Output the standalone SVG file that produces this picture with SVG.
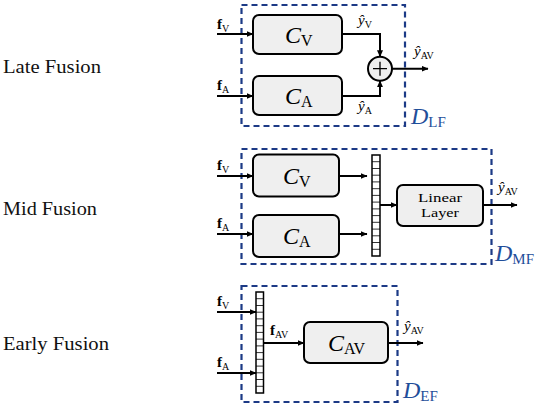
<svg xmlns="http://www.w3.org/2000/svg" width="550" height="409" viewBox="0 0 550 409">
<defs>
<marker id="ah" markerWidth="7" markerHeight="6" refX="6.5" refY="3" orient="auto" markerUnits="userSpaceOnUse"><path d="M0,0 L7,3 L0,6 z" fill="#000"/></marker>
</defs>
<style>
text{font-family:"Liberation Serif","Times New Roman","Noto Serif","DejaVu Serif",Tinos,serif}
.lbl{font-size:19px;fill:#111}
.box{fill:#efefef;stroke:#000;stroke-width:2}
.dash{fill:none;stroke:#1c3a86;stroke-width:2.2;stroke-dasharray:6 4}
.arr{fill:none;stroke:#000;stroke-width:2;marker-end:url(#ah)}
.m{fill:#000}
.cal{font-style:italic;font-size:24px}
.it{font-style:italic;font-size:15px}
.bf{font-weight:bold;font-size:15px}
.sub{font-style:normal;font-weight:normal;font-size:10px}
.D{fill:#1f4e9a}
.vec{fill:#fff;stroke:#000;stroke-width:1.5}
.cell{stroke:#000;stroke-width:0.8;fill:none}
</style>
<g id="titles">
<text class="lbl" x="3" y="73" textLength="98" lengthAdjust="spacingAndGlyphs">Late Fusion</text>
<text class="lbl" x="3" y="215" textLength="94" lengthAdjust="spacingAndGlyphs">Mid Fusion</text>
<text class="lbl" x="3" y="350" textLength="106" lengthAdjust="spacingAndGlyphs">Early Fusion</text>
</g>

<!-- Late fusion -->
<g id="lf-frame"><rect class="dash" x="241.5" y="5" width="163.5" height="121"/>
<text class="D" x="411" y="124"><tspan font-style="italic" font-size="24">D</tspan><tspan font-size="15" dy="3">LF</tspan></text></g>
<g id="lf-cv"><rect class="box" x="253" y="15" width="89" height="39" rx="6"/>
<text class="m" x="285" y="43"><tspan class="cal">C</tspan><tspan font-size="16" dy="3">V</tspan></text></g>
<g id="lf-ca"><rect class="box" x="253" y="76" width="89" height="39" rx="6"/>
<text class="m" x="285" y="104"><tspan class="cal">C</tspan><tspan font-size="16" dy="3">A</tspan></text></g>
<g id="lf-sum"><circle cx="380" cy="68.7" r="12" fill="#efefef" stroke="#000" stroke-width="2"/>
<path d="M373,68.7 H387 M380,61.7 V75.7" stroke="#000" stroke-width="1.3"/></g>
<g id="lf-connectors">
<line class="arr" x1="217" y1="34" x2="253" y2="34"/>
<line class="arr" x1="217" y1="96" x2="253" y2="96"/>
<polyline class="arr" points="342,34 380,34 380,56.7"/>
<polyline class="arr" points="342,96 380,96 380,80.7"/>
<line class="arr" x1="392" y1="68.7" x2="428" y2="68.7"/>
</g>
<g id="lf-labels">
<text class="m" x="217" y="29"><tspan class="bf">f</tspan><tspan class="sub" dy="3">V</tspan></text>
<text class="m" x="217" y="90"><tspan class="bf">f</tspan><tspan class="sub" dy="3">A</tspan></text>
<text class="m" x="358" y="25"><tspan class="it">ŷ</tspan><tspan class="sub" dy="3">V</tspan></text>
<text class="m" x="358" y="111"><tspan class="it">ŷ</tspan><tspan class="sub" dy="3">A</tspan></text>
<text class="m" x="414" y="56"><tspan class="it">ŷ</tspan><tspan class="sub" dy="3">AV</tspan></text>
</g>

<!-- Mid fusion -->
<g id="mf-frame"><rect class="dash" x="241.5" y="149" width="250" height="115"/>
<text class="D" x="495" y="261"><tspan font-style="italic" font-size="24">D</tspan><tspan font-size="15" dy="3">MF</tspan></text></g>
<g id="mf-cv"><rect class="box" x="253" y="154.5" width="86" height="42" rx="6"/>
<text class="m" x="283" y="184"><tspan class="cal">C</tspan><tspan font-size="16" dy="3">V</tspan></text></g>
<g id="mf-ca"><rect class="box" x="253" y="215" width="86" height="42" rx="6"/>
<text class="m" x="283" y="244"><tspan class="cal">C</tspan><tspan font-size="16" dy="3">A</tspan></text></g>
<g id="mf-vec"><rect class="vec" x="372" y="155" width="8" height="101"/>
<path class="cell" d="M372,161.7 H380 M372,168.5 H380 M372,175.2 H380 M372,181.9 H380 M372,188.7 H380 M372,195.4 H380 M372,202.1 H380 M372,208.9 H380 M372,215.6 H380 M372,222.3 H380 M372,229.1 H380 M372,235.8 H380 M372,242.5 H380 M372,249.3 H380"/></g>
<g id="mf-linear"><rect class="box" x="397" y="185" width="86" height="41" rx="6"/>
<text class="m" x="440" y="201.5" font-size="13.5" text-anchor="middle" textLength="44" lengthAdjust="spacingAndGlyphs">Linear</text>
<text class="m" x="440" y="217" font-size="13.5" text-anchor="middle" textLength="38" lengthAdjust="spacingAndGlyphs">Layer</text></g>
<g id="mf-connectors">
<line class="arr" x1="217" y1="176" x2="253" y2="176"/>
<line class="arr" x1="217" y1="234" x2="253" y2="234"/>
<line class="arr" x1="339" y1="176" x2="367" y2="176"/>
<line class="arr" x1="339" y1="234" x2="367" y2="234"/>
<line class="arr" x1="380" y1="205" x2="397" y2="205"/>
<line class="arr" x1="483" y1="205" x2="517" y2="205"/>
</g>
<g id="mf-labels">
<text class="m" x="217" y="170"><tspan class="bf">f</tspan><tspan class="sub" dy="3">V</tspan></text>
<text class="m" x="217" y="228"><tspan class="bf">f</tspan><tspan class="sub" dy="3">A</tspan></text>
<text class="m" x="498" y="192"><tspan class="it">ŷ</tspan><tspan class="sub" dy="3">AV</tspan></text>
</g>

<!-- Early fusion -->
<g id="ef-frame"><rect class="dash" x="241.5" y="286" width="156" height="116"/>
<text class="D" x="403" y="398"><tspan font-style="italic" font-size="24">D</tspan><tspan font-size="15" dy="3">EF</tspan></text></g>
<g id="ef-vec"><rect class="vec" x="256" y="292" width="7.5" height="101"/>
<path class="cell" d="M256,298.7 H263.5 M256,305.5 H263.5 M256,312.2 H263.5 M256,318.9 H263.5 M256,325.7 H263.5 M256,332.4 H263.5 M256,339.1 H263.5 M256,345.9 H263.5 M256,352.6 H263.5 M256,359.3 H263.5 M256,366.1 H263.5 M256,372.8 H263.5 M256,379.5 H263.5 M256,386.3 H263.5"/></g>
<g id="ef-cav"><rect class="box" x="304" y="322" width="84" height="41" rx="6"/>
<text class="m" x="328" y="351"><tspan class="cal">C</tspan><tspan font-size="16" dy="3">AV</tspan></text></g>
<g id="ef-connectors">
<line class="arr" x1="217" y1="312" x2="256" y2="312"/>
<line class="arr" x1="217" y1="373" x2="256" y2="373"/>
<line class="arr" x1="263.5" y1="343" x2="304" y2="343"/>
<line class="arr" x1="388" y1="343" x2="423" y2="343"/>
</g>
<g id="ef-labels">
<text class="m" x="217" y="306"><tspan class="bf">f</tspan><tspan class="sub" dy="3">V</tspan></text>
<text class="m" x="217" y="367"><tspan class="bf">f</tspan><tspan class="sub" dy="3">A</tspan></text>
<text class="m" x="270" y="335"><tspan class="bf">f</tspan><tspan class="sub" dy="3">AV</tspan></text>
<text class="m" x="404" y="331"><tspan class="it">ŷ</tspan><tspan class="sub" dy="3">AV</tspan></text>
</g>
</svg>
